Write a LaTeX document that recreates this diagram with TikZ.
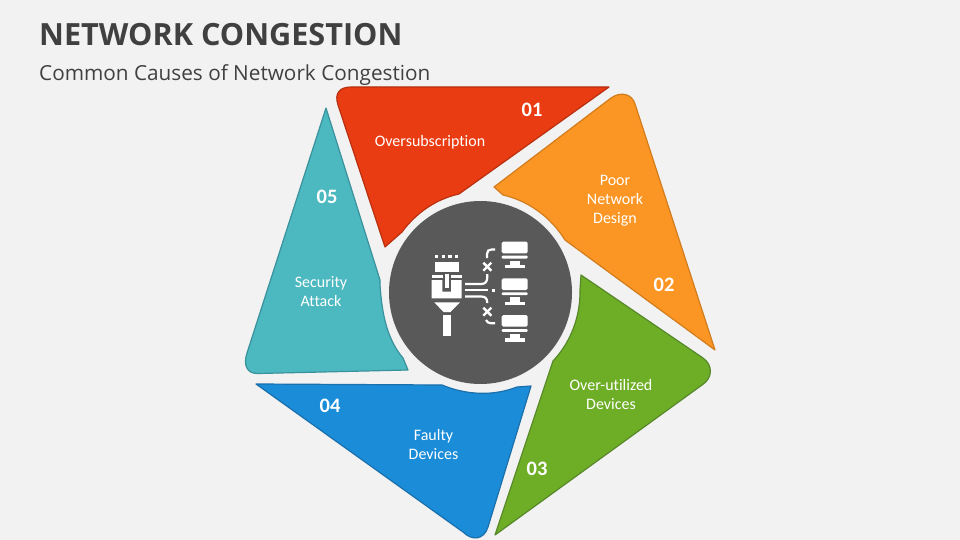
\documentclass[tikz,border=0pt]{standalone}
\usepackage{fontspec}
\setmainfont[Ligatures=NoCommon]{Carlito}
\newfontfamily\titlefont{Open Sans}
\usepackage{xcolor}
\usepackage{tikz}
\definecolor{pageGrey}{HTML}{F2F2F2}
\definecolor{titleInk}{HTML}{404040}
\definecolor{hubGrey}{HTML}{595959}
\definecolor{redFill}{HTML}{EA3C12}
\definecolor{redLine}{HTML}{B8300F}
\definecolor{orangeFill}{HTML}{FB9625}
\definecolor{orangeLine}{HTML}{D27C1C}
\definecolor{greenFill}{HTML}{6EAE27}
\definecolor{greenLine}{HTML}{56882A}
\definecolor{blueFill}{HTML}{1A8CD8}
\definecolor{blueLine}{HTML}{1B70AC}
\definecolor{tealFill}{HTML}{4CB8C0}
\definecolor{tealLine}{HTML}{3A929C}
\tikzset{
  petal/.style={line width=1.2pt, line join=round},
  labelcell/.style={font=\fontsize{16}{19}\selectfont, text=white, align=center,
    inner sep=0pt, outer sep=0pt},
  numcell/.style={font=\fontsize{20.5}{22}\selectfont\bfseries, text=white,
    inner sep=0pt, outer sep=0pt},
  iconpart/.style={fill=white, draw=none},
  iconwire/.style={draw=white, line width=2.2pt, line cap=butt},
}
\begin{document}
\begin{tikzpicture}[x=1pt,y=-1pt]
\useasboundingbox (0,0) rectangle (960,540);
\fill[pageGrey] (0,0) rectangle (960,540);

% --- title ------------------------------------------------------------------
\node[anchor=base west,inner sep=0pt,text=titleInk,font=\titlefont\fontsize{30.6}{32}\selectfont\bfseries]
  (title) at (39,46) {NETWORK CONGESTION};
\node[anchor=base west,inner sep=0pt,text=titleInk,font=\titlefont\fontsize{20.75}{22}\selectfont]
  (subtitle) at (39,81) {Common Causes of Network Congestion};

% --- petals -----------------------------------------------------------------
% 01
\draw[petal,fill=redFill,draw=redLine]
  (609,87) -- (459,194) .. controls (436,199) and (416,213) .. (402,232) -- (385,247)
  -- (338,105) .. controls (334,93) and (340,87) .. (351,87) -- cycle;
% 02
\draw[petal,fill=orangeFill,draw=orangeLine]
  (494,187) -- (611,98) .. controls (621,91) and (632,94) .. (635,104) -- (715,350)
  -- (565,240) .. controls (551,217.5) and (529,201) .. (503,195) -- cycle;
% 03
\draw[petal,fill=greenFill,draw=greenLine]
  (581,275) -- (703,358) .. controls (713,365) and (713,378) .. (702,385) -- (495,535)
  -- (553,361) .. controls (571,342) and (580.5,316) .. (580,290) -- cycle;
% 04
\draw[petal,fill=blueFill,draw=blueLine]
  (256,384) -- (442,385) .. controls (466,395) and (493,396.4) .. (517,387) -- (531,386)
  -- (488,527) .. controls (484,540) and (472,541) .. (463,532) -- cycle;
% 05
\draw[petal,fill=tealFill,draw=tealLine]
  (326,108) -- (380,280) -- (380,285) .. controls (381.8,311) and (386,338) .. (403,358)
  -- (408,370) -- (258,373.5) .. controls (247,374) and (243,365) .. (247,353) -- cycle;

% --- labels -----------------------------------------------------------------
\node[numcell] (numA) at (532,110) {01};
\node[numcell] (numB) at (664,284.5) {02};
\node[numcell] (numC) at (537,469) {03};
\node[numcell] (numD) at (330,405.5) {04};
\node[numcell] (numE) at (327,197) {05};
\node[labelcell] (causeA) at (430,142.5) {Oversubscription};
\node[labelcell] (causeB) at (615,200.5) {Poor\\Network\\Design};
\node[labelcell] (causeC) at (611,394.5) {Over-utilized\\Devices};
\node[labelcell] (causeD) at (433.5,444.5) {Faulty\\Devices};
\node[labelcell] (causeE) at (321,292) {Security\\Attack};

% --- hub --------------------------------------------------------------------
\fill[hubGrey] (480.5,292.5) circle (91.5);

% plug
\foreach \xx in {435,441.7,448.3,455}{
  \fill[iconpart] (\xx,255) rectangle ++(3.3,3.3);
}
\fill[iconpart] (435,261.7) rectangle (459.3,271.7);
\fill[iconpart] (431.7,275) rectangle (443,278.3);
\fill[iconpart] (450.5,275) rectangle (461.7,278.3);
\fill[iconpart] (431.7,280) -- (442.3,280) -- (442.3,291.7) -- (451,291.7) -- (451,280)
  -- (461.7,280) -- (461.7,298.3) -- (431.7,298.3) -- cycle;
\fill[iconpart] (445,274) rectangle (449,288.3);
\fill[iconpart] (434.3,302.3) -- (460,302.3) -- (450.5,312) -- (443.5,312) -- cycle;
\fill[iconpart] (443.3,315) rectangle (450.7,335.7);

% wires
\draw[iconwire] (465,284) -- (481,284) .. controls (485,284) and (487.3,282) .. (487.3,277) -- (487.3,274);
\draw[iconwire] (465,290.3) -- (488,290.3);
\draw[iconwire] (465,296.5) -- (481,296.5) .. controls (485,296.5) and (487.3,298) .. (487.3,303);
\fill[iconpart] (492,289) rectangle ++(2.8,2.8);
\draw[iconwire] (495,249.5) -- (491.5,249.5) .. controls (488.5,249.5) and (487,251) .. (487,254) -- (487,258);
\draw[iconwire] (495,323.3) -- (491,323.3) .. controls (488.5,323.3) and (487,322) .. (486,320);

% crosses
\foreach \yy in {266.7,311.7}{
  \draw[draw=white,line width=2.4pt] (483.3,\yy-4) -- (491.3,\yy+4);
  \draw[draw=white,line width=2.4pt] (483.3,\yy+4) -- (491.3,\yy-4);
}

% monitors
\foreach \yy in {0,36.7,73.4}{
  \begin{scope}[shift={(0,\yy)}]
    \fill[iconpart,rounded corners=1.5pt] (501.7,241.7) rectangle (527.7,253.3);
    \fill[iconpart,rounded corners=1pt] (501.7,255.7) rectangle (527.7,258.5);
    \fill[iconpart] (510,260.5) rectangle (520,265);
    \fill[iconpart] (505,265) rectangle (525,268.3);
  \end{scope}
}
\end{tikzpicture}
\end{document}
